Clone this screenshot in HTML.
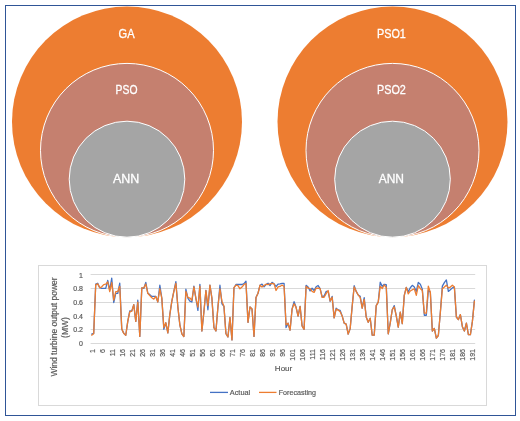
<!DOCTYPE html>
<html><head><meta charset="utf-8"><title>GA-PSO-ANN</title>
<style>
html,body{margin:0;padding:0;background:#fff;}
body{width:520px;height:421px;overflow:hidden;}
svg{display:block;font-family:"Liberation Sans",Arial,sans-serif;}
.t{fill:#595959;stroke:#595959;stroke-width:0.18px;}
</style></head><body>
<svg width="520" height="421" viewBox="0 0 520 421">
<rect x="5.5" y="5.5" width="510" height="410" fill="none" stroke="#2F5597" stroke-width="1"/>
<ellipse cx="127" cy="121.8" rx="115" ry="115.3" fill="#ED7D31"/>
<ellipse cx="127" cy="150.3" rx="86.5" ry="86.9" fill="#C5806F" stroke="#fff" stroke-width="1"/>
<ellipse cx="127" cy="179.2" rx="57.8" ry="58.0" fill="#A5A5A5" stroke="#fff" stroke-width="1"/>
<ellipse cx="392.5" cy="121.8" rx="115" ry="115.3" fill="#ED7D31"/>
<ellipse cx="392.5" cy="150.3" rx="86.5" ry="86.9" fill="#C5806F" stroke="#fff" stroke-width="1"/>
<ellipse cx="392.5" cy="179.2" rx="57.8" ry="58.0" fill="#A5A5A5" stroke="#fff" stroke-width="1"/>
<text x="118.5" y="37.9" font-size="12.2" fill="#fff" stroke="#fff" stroke-width="0.3" textLength="16.1" lengthAdjust="spacingAndGlyphs">GA</text>
<text x="115.6" y="93.8" font-size="12.2" fill="#fff" stroke="#fff" stroke-width="0.3" textLength="21.9" lengthAdjust="spacingAndGlyphs">PSO</text>
<text x="113" y="182.8" font-size="12.2" fill="#fff" stroke="#fff" stroke-width="0.3" textLength="26.3" lengthAdjust="spacingAndGlyphs">ANN</text>
<text x="377" y="37.9" font-size="12.2" fill="#fff" stroke="#fff" stroke-width="0.3" textLength="28.9" lengthAdjust="spacingAndGlyphs">PSO1</text>
<text x="377" y="93.8" font-size="12.2" fill="#fff" stroke="#fff" stroke-width="0.3" textLength="28.9" lengthAdjust="spacingAndGlyphs">PSO2</text>
<text x="378.7" y="182.8" font-size="12.2" fill="#fff" stroke="#fff" stroke-width="0.3" textLength="25.3" lengthAdjust="spacingAndGlyphs">ANN</text>
<rect x="38.5" y="265.5" width="448" height="140" fill="#fff" stroke="#D9D9D9" stroke-width="1"/>
<line x1="90.6" y1="343.50" x2="475.2" y2="343.50" stroke="#D9D9D9" stroke-width="1"/>
<text x="83" y="346.10" font-size="7" class="t" text-anchor="end">0</text>
<line x1="90.6" y1="329.50" x2="475.2" y2="329.50" stroke="#D9D9D9" stroke-width="1"/>
<text x="83" y="332.10" font-size="7" class="t" text-anchor="end">0.2</text>
<line x1="90.6" y1="316.50" x2="475.2" y2="316.50" stroke="#D9D9D9" stroke-width="1"/>
<text x="83" y="319.10" font-size="7" class="t" text-anchor="end">0.4</text>
<line x1="90.6" y1="302.50" x2="475.2" y2="302.50" stroke="#D9D9D9" stroke-width="1"/>
<text x="83" y="305.10" font-size="7" class="t" text-anchor="end">0.6</text>
<line x1="90.6" y1="288.50" x2="475.2" y2="288.50" stroke="#D9D9D9" stroke-width="1"/>
<text x="83" y="291.10" font-size="7" class="t" text-anchor="end">0.8</text>
<line x1="90.6" y1="274.50" x2="475.2" y2="274.50" stroke="#D9D9D9" stroke-width="1"/>
<text x="83" y="277.90" font-size="7" class="t" text-anchor="end">1</text>
<text transform="translate(94.50,349) rotate(-90)" font-size="7" class="t" text-anchor="end">1</text>
<text transform="translate(104.50,349) rotate(-90)" font-size="7" class="t" text-anchor="end">6</text>
<text transform="translate(114.50,349) rotate(-90)" font-size="7" class="t" text-anchor="end">11</text>
<text transform="translate(124.50,349) rotate(-90)" font-size="7" class="t" text-anchor="end">16</text>
<text transform="translate(134.50,349) rotate(-90)" font-size="7" class="t" text-anchor="end">21</text>
<text transform="translate(144.50,349) rotate(-90)" font-size="7" class="t" text-anchor="end">26</text>
<text transform="translate(154.50,349) rotate(-90)" font-size="7" class="t" text-anchor="end">31</text>
<text transform="translate(164.50,349) rotate(-90)" font-size="7" class="t" text-anchor="end">36</text>
<text transform="translate(174.50,349) rotate(-90)" font-size="7" class="t" text-anchor="end">41</text>
<text transform="translate(184.50,349) rotate(-90)" font-size="7" class="t" text-anchor="end">46</text>
<text transform="translate(194.50,349) rotate(-90)" font-size="7" class="t" text-anchor="end">51</text>
<text transform="translate(204.50,349) rotate(-90)" font-size="7" class="t" text-anchor="end">56</text>
<text transform="translate(214.50,349) rotate(-90)" font-size="7" class="t" text-anchor="end">61</text>
<text transform="translate(224.50,349) rotate(-90)" font-size="7" class="t" text-anchor="end">66</text>
<text transform="translate(234.50,349) rotate(-90)" font-size="7" class="t" text-anchor="end">71</text>
<text transform="translate(244.50,349) rotate(-90)" font-size="7" class="t" text-anchor="end">76</text>
<text transform="translate(254.50,349) rotate(-90)" font-size="7" class="t" text-anchor="end">81</text>
<text transform="translate(264.50,349) rotate(-90)" font-size="7" class="t" text-anchor="end">86</text>
<text transform="translate(274.50,349) rotate(-90)" font-size="7" class="t" text-anchor="end">91</text>
<text transform="translate(284.50,349) rotate(-90)" font-size="7" class="t" text-anchor="end">96</text>
<text transform="translate(294.50,349) rotate(-90)" font-size="7" class="t" text-anchor="end">101</text>
<text transform="translate(304.50,349) rotate(-90)" font-size="7" class="t" text-anchor="end">106</text>
<text transform="translate(314.50,349) rotate(-90)" font-size="7" class="t" text-anchor="end">111</text>
<text transform="translate(324.50,349) rotate(-90)" font-size="7" class="t" text-anchor="end">116</text>
<text transform="translate(334.50,349) rotate(-90)" font-size="7" class="t" text-anchor="end">121</text>
<text transform="translate(344.50,349) rotate(-90)" font-size="7" class="t" text-anchor="end">126</text>
<text transform="translate(354.50,349) rotate(-90)" font-size="7" class="t" text-anchor="end">131</text>
<text transform="translate(364.50,349) rotate(-90)" font-size="7" class="t" text-anchor="end">136</text>
<text transform="translate(374.50,349) rotate(-90)" font-size="7" class="t" text-anchor="end">141</text>
<text transform="translate(384.50,349) rotate(-90)" font-size="7" class="t" text-anchor="end">146</text>
<text transform="translate(394.50,349) rotate(-90)" font-size="7" class="t" text-anchor="end">151</text>
<text transform="translate(404.50,349) rotate(-90)" font-size="7" class="t" text-anchor="end">156</text>
<text transform="translate(414.50,349) rotate(-90)" font-size="7" class="t" text-anchor="end">161</text>
<text transform="translate(424.50,349) rotate(-90)" font-size="7" class="t" text-anchor="end">166</text>
<text transform="translate(434.50,349) rotate(-90)" font-size="7" class="t" text-anchor="end">171</text>
<text transform="translate(444.50,349) rotate(-90)" font-size="7" class="t" text-anchor="end">176</text>
<text transform="translate(454.50,349) rotate(-90)" font-size="7" class="t" text-anchor="end">181</text>
<text transform="translate(464.50,349) rotate(-90)" font-size="7" class="t" text-anchor="end">186</text>
<text transform="translate(474.50,349) rotate(-90)" font-size="7" class="t" text-anchor="end">191</text>
<polyline points="91.70,334.13 93.70,333.44 95.71,284.18 97.71,283.22 99.71,287.75 101.72,288.44 103.72,288.44 105.73,288.44 107.73,280.40 109.73,290.09 111.74,278.20 113.74,302.52 115.74,293.46 117.75,293.46 119.75,283.22 121.76,328.97 123.76,333.37 125.76,335.22 127.77,321.42 129.77,310.84 131.77,311.11 133.78,304.65 135.78,321.42 137.79,300.26 139.79,336.39 141.79,287.89 143.80,288.44 145.80,282.39 147.80,293.25 149.81,294.62 151.81,296.41 153.81,296.41 155.82,296.41 157.82,301.97 159.83,285.21 161.83,298.40 163.83,329.32 165.84,322.79 167.84,332.89 169.84,314.34 171.85,301.15 173.85,291.39 175.86,281.57 177.86,306.99 179.86,324.85 181.87,333.78 183.87,336.53 185.87,289.26 187.88,298.06 189.88,301.15 191.88,301.97 193.89,286.10 195.89,298.47 197.90,310.42 199.90,284.32 201.90,331.03 203.91,311.80 205.91,290.50 207.91,309.74 209.92,285.21 211.92,298.47 213.93,327.60 215.93,331.03 217.93,306.99 219.94,285.21 221.94,303.76 223.94,306.30 225.95,333.78 227.95,337.01 229.96,317.50 231.96,339.96 233.96,287.75 235.97,284.52 237.97,284.52 239.97,284.52 241.98,284.52 243.98,283.63 245.98,281.16 247.99,322.31 249.99,306.99 252.00,309.05 254.00,336.39 256.00,297.58 258.01,293.25 260.01,285.21 262.01,284.18 264.02,286.93 266.02,284.66 268.03,283.29 270.03,285.55 272.03,282.39 274.04,283.77 276.04,286.45 278.04,284.18 280.05,283.77 282.05,283.29 284.06,283.29 286.06,327.60 288.06,323.20 290.07,330.21 292.07,309.05 294.07,301.63 296.08,307.33 298.08,316.13 300.08,306.30 302.09,325.81 304.09,329.32 306.10,285.35 308.10,286.93 310.10,290.98 312.11,288.23 314.11,290.50 316.11,286.72 318.12,285.55 320.12,288.71 322.13,296.82 324.13,295.93 326.13,291.46 328.14,291.46 330.14,301.36 332.14,296.41 334.15,317.91 336.15,308.23 338.16,309.94 340.16,310.42 342.16,315.92 344.17,323.20 346.17,324.16 348.17,334.13 350.18,328.42 352.18,306.30 354.18,285.69 356.19,291.39 358.19,294.97 360.20,296.34 362.20,308.23 364.20,297.58 366.21,317.02 368.21,322.31 370.21,318.26 372.22,335.16 374.22,335.16 376.23,305.61 378.23,302.18 380.23,282.26 382.24,286.38 384.24,284.32 386.24,284.59 388.25,333.78 390.25,322.79 392.25,309.74 394.26,305.61 396.26,315.92 398.27,327.12 400.27,312.21 402.27,323.61 404.28,295.31 406.28,287.34 408.28,291.88 410.29,287.75 412.29,285.35 414.30,287.07 416.30,291.46 418.30,282.39 420.31,284.18 422.31,289.13 424.31,315.23 426.32,315.23 428.32,290.50 430.33,292.29 432.33,331.03 434.33,328.42 436.34,338.18 438.34,335.50 440.34,312.48 442.35,286.10 444.35,282.60 446.35,279.92 448.36,291.39 450.36,289.81 452.37,287.89 454.37,287.07 456.37,317.02 458.38,319.63 460.38,314.55 462.38,326.71 464.39,331.03 466.39,323.20 468.40,334.61 470.40,334.61 472.40,321.42 474.41,300.12" fill="none" stroke="#4472C4" stroke-width="1.3" stroke-linejoin="round" stroke-linecap="round"/>
<polyline points="91.70,335.16 93.70,333.78 95.71,284.87 97.71,283.91 99.71,287.75 101.72,286.79 103.72,284.59 105.73,284.18 107.73,282.05 109.73,291.60 111.74,282.53 113.74,300.12 115.74,291.60 117.75,291.60 119.75,286.31 121.76,328.97 123.76,333.37 125.76,335.22 127.77,321.42 129.77,311.80 131.77,311.11 133.78,304.65 135.78,321.42 137.79,302.18 139.79,336.39 141.79,287.89 143.80,287.75 145.80,284.18 147.80,293.25 149.81,295.65 151.81,297.78 153.81,299.09 155.82,296.41 157.82,301.97 159.83,288.78 161.83,298.40 163.83,327.60 165.84,322.79 167.84,332.89 169.84,314.34 171.85,301.15 173.85,291.39 175.86,283.29 177.86,306.99 179.86,324.85 181.87,333.78 183.87,336.53 185.87,291.39 187.88,297.37 189.88,298.06 191.88,300.26 193.89,286.93 195.89,298.47 197.90,306.99 199.90,286.10 201.90,331.03 203.91,311.80 205.91,290.50 207.91,305.61 209.92,285.21 211.92,298.47 213.93,327.60 215.93,331.03 217.93,306.99 219.94,288.78 221.94,301.15 223.94,306.30 225.95,333.78 227.95,337.01 229.96,317.50 231.96,339.96 233.96,287.75 235.97,285.21 237.97,285.69 239.97,288.78 241.98,287.07 243.98,284.52 245.98,283.49 247.99,322.31 249.99,306.99 252.00,309.05 254.00,336.39 256.00,297.58 258.01,293.25 260.01,285.21 262.01,287.07 264.02,285.55 266.02,284.18 268.03,284.66 270.03,283.77 272.03,283.29 274.04,283.77 276.04,290.50 278.04,286.93 280.05,286.45 282.05,285.07 284.06,286.45 286.06,324.85 288.06,323.20 290.07,330.21 292.07,309.05 294.07,303.76 296.08,307.33 298.08,316.13 300.08,306.30 302.09,325.81 304.09,329.32 306.10,286.45 308.10,288.23 310.10,288.71 312.11,291.46 314.11,292.36 316.11,288.23 318.12,288.23 320.12,288.71 322.13,297.30 324.13,297.30 326.13,293.66 328.14,290.50 330.14,300.87 332.14,297.30 334.15,317.91 336.15,309.05 338.16,309.94 340.16,311.80 342.16,315.92 344.17,323.20 346.17,324.16 348.17,334.13 350.18,328.42 352.18,306.30 354.18,286.93 356.19,291.39 358.19,294.97 360.20,297.58 362.20,308.23 364.20,299.43 366.21,317.02 368.21,322.31 370.21,318.26 372.22,335.16 374.22,335.16 376.23,305.61 378.23,302.18 380.23,286.38 382.24,288.44 384.24,285.00 386.24,287.34 388.25,333.78 390.25,322.79 392.25,309.74 394.26,306.99 396.26,315.92 398.27,327.12 400.27,312.21 402.27,323.61 404.28,295.31 406.28,287.34 408.28,293.94 410.29,290.98 412.29,289.81 414.30,288.78 416.30,295.31 418.30,285.55 420.31,288.44 422.31,290.50 424.31,313.17 426.32,313.17 428.32,286.10 430.33,292.29 432.33,331.03 434.33,328.42 436.34,338.18 438.34,335.50 440.34,312.48 442.35,288.78 444.35,287.07 446.35,285.21 448.36,287.89 450.36,287.07 452.37,285.21 454.37,287.07 456.37,317.02 458.38,319.63 460.38,314.55 462.38,326.71 464.39,331.03 466.39,323.20 468.40,334.61 470.40,334.61 472.40,321.42 474.41,301.15" fill="none" stroke="#ED7D31" stroke-width="1.3" stroke-linejoin="round" stroke-linecap="round"/>
<text transform="translate(57.3,327) rotate(-90)" font-size="8.5" class="t" text-anchor="middle">Wind turbine output power</text>
<text transform="translate(67.7,327.5) rotate(-90)" font-size="8.5" class="t" text-anchor="middle">(MW)</text>
<text x="274.8" y="371" font-size="8" class="t" textLength="17.5" lengthAdjust="spacingAndGlyphs">Hour</text>
<line x1="210" y1="392.4" x2="228" y2="392.4" stroke="#4472C4" stroke-width="1.3"/>
<text x="229.8" y="395" font-size="7.3" class="t" textLength="20.4" lengthAdjust="spacingAndGlyphs">Actual</text>
<line x1="259" y1="392.4" x2="276.5" y2="392.4" stroke="#ED7D31" stroke-width="1.3"/>
<text x="278.75" y="395" font-size="7.3" class="t" textLength="37.25" lengthAdjust="spacingAndGlyphs">Forecasting</text>
</svg>
</body></html>
